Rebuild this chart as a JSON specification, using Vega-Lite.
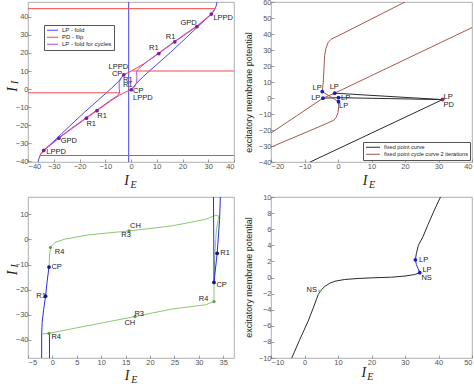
{
  "$schema": "https://vega.github.io/schema/vega-lite/v6.json",
  "padding": {"left": 4, "top": -3, "right": 0, "bottom": 0},
  "columns": 2,
  "spacing": {"row": 35, "column": 37},
  "bounds": "flush",
  "resolve": {"scale": {"color": "independent"}, "legend": {"color": "independent"}},
  "config": {
    "font": "Liberation Sans",
    "view": {"stroke": "#9a9a9a", "strokeWidth": 0.8},
    "axis": {"grid": false, "domain": false, "tickSize": -3, "tickColor": "#777", "tickWidth": 0.7, "labelFont": "Liberation Sans", "labelFontSize": 7.5, "labelColor": "#555", "labelPadding": 3, "titleFont": "Liberation Serif", "titleFontStyle": "italic", "titleFontWeight": "normal", "titleColor": "#222", "titleFontSize": 14, "titleBaseline": "alphabetic", "titleAlign": "center"},
    "legend": {"labelFont": "Liberation Sans", "labelColor": "#222", "strokeColor": "#555", "fillColor": "#ffffff", "padding": 2, "rowPadding": 0, "symbolType": "stroke", "symbolStrokeWidth": 1.1, "labelOffset": 3}
  },
  "concat": [
    {
      "width": 206, "height": 160,
      "resolve": {"axis": {"x": "independent", "y": "independent"}},
      "layer": [
        {
          "data": {"values": [
            {"s":"LP - fold","id":"bv","o":0,"x":-0.9,"y":48.3},{"s":"LP - fold","id":"bv","o":1,"x":-0.9,"y":-40.5},
            {"s":"LP - fold","id":"bA","o":0,"x":-36.1,"y":-40.5},{"s":"LP - fold","id":"bA","o":1,"x":-35.7,"y":-38.3},{"s":"LP - fold","id":"bA","o":2,"x":-35.0,"y":-36.0},{"s":"LP - fold","id":"bA","o":3,"x":-33.9,"y":-34.1},{"s":"LP - fold","id":"bA","o":4,"x":-29,"y":-27.6},{"s":"LP - fold","id":"bA","o":5,"x":-24,"y":-20.8},{"s":"LP - fold","id":"bA","o":6,"x":-18,"y":-12.8},{"s":"LP - fold","id":"bA","o":7,"x":-12,"y":-5.2},{"s":"LP - fold","id":"bA","o":8,"x":-7.5,"y":0.5},{"s":"LP - fold","id":"bA","o":9,"x":-4.8,"y":4.3},{"s":"LP - fold","id":"bA","o":10,"x":-2.8,"y":7.9},
            {"s":"LP - fold","id":"bB","o":0,"x":0.1,"y":-0.4},{"s":"LP - fold","id":"bB","o":1,"x":2.1,"y":3.2},{"s":"LP - fold","id":"bB","o":2,"x":4.8,"y":7},{"s":"LP - fold","id":"bB","o":3,"x":9.3,"y":12.7},{"s":"LP - fold","id":"bB","o":4,"x":15.3,"y":20.3},{"s":"LP - fold","id":"bB","o":5,"x":21.3,"y":28.3},{"s":"LP - fold","id":"bB","o":6,"x":26.3,"y":35.1},{"s":"LP - fold","id":"bB","o":7,"x":31.2,"y":41.6},{"s":"LP - fold","id":"bB","o":8,"x":32.3,"y":43.5},{"s":"LP - fold","id":"bB","o":9,"x":33,"y":45.8},{"s":"LP - fold","id":"bB","o":10,"x":33.4,"y":48.3},
            {"s":"PD - flip","id":"rh1","o":0,"x":-40,"y":44.6},{"s":"PD - flip","id":"rh1","o":1,"x":32.6,"y":44.6},
            {"s":"PD - flip","id":"rh2","o":0,"x":0.5,"y":10},{"s":"PD - flip","id":"rh2","o":1,"x":40,"y":10},
            {"s":"PD - flip","id":"rh3","o":0,"x":-40,"y":-2.1},{"s":"PD - flip","id":"rh3","o":1,"x":-4.3,"y":-2.1},
            {"s":"PD - flip","id":"rh4","o":0,"x":-35.4,"y":-36.9},{"s":"PD - flip","id":"rh4","o":1,"x":40,"y":-36.9},
            {"s":"PD - flip","id":"rL","o":0,"x":-35.4,"y":-36.9},{"s":"PD - flip","id":"rL","o":1,"x":-33.9,"y":-34.1},{"s":"PD - flip","id":"rL","o":2,"x":-28,"y":-27.3},{"s":"PD - flip","id":"rL","o":3,"x":-22,"y":-21},{"s":"PD - flip","id":"rL","o":4,"x":-17.3,"y":-16.2},{"s":"PD - flip","id":"rL","o":5,"x":-13.2,"y":-12},{"s":"PD - flip","id":"rL","o":6,"x":-8,"y":-6.7},{"s":"PD - flip","id":"rL","o":7,"x":-4.3,"y":-3.3},{"s":"PD - flip","id":"rL","o":8,"x":-2,"y":-1.6},{"s":"PD - flip","id":"rL","o":9,"x":0.1,"y":-0.4},
            {"s":"PD - flip","id":"rU","o":0,"x":-2.8,"y":7.9},{"s":"PD - flip","id":"rU","o":1,"x":0,"y":9.9},{"s":"PD - flip","id":"rU","o":2,"x":5,"y":14},{"s":"PD - flip","id":"rU","o":3,"x":10.8,"y":19.7},{"s":"PD - flip","id":"rU","o":4,"x":17,"y":26.2},{"s":"PD - flip","id":"rU","o":5,"x":21,"y":30.2},{"s":"PD - flip","id":"rU","o":6,"x":25.6,"y":34.7},{"s":"PD - flip","id":"rU","o":7,"x":29,"y":38.6},{"s":"PD - flip","id":"rU","o":8,"x":31.2,"y":41.6},{"s":"PD - flip","id":"rU","o":9,"x":32.6,"y":44.6},
            {"s":"LP - fold for cycles","id":"pL","o":0,"x":-33.9,"y":-34.1},{"s":"LP - fold for cycles","id":"pL","o":1,"x":-28,"y":-27},{"s":"LP - fold for cycles","id":"pL","o":2,"x":-22,"y":-20.6},{"s":"LP - fold for cycles","id":"pL","o":3,"x":-17.3,"y":-15.8},{"s":"LP - fold for cycles","id":"pL","o":4,"x":-13.2,"y":-11.6},{"s":"LP - fold for cycles","id":"pL","o":5,"x":-8,"y":-6.3},{"s":"LP - fold for cycles","id":"pL","o":6,"x":-5.2,"y":-3.6},{"s":"LP - fold for cycles","id":"pL","o":7,"x":-4.4,"y":-2.2},{"s":"LP - fold for cycles","id":"pL","o":8,"x":-4.6,"y":0.5},{"s":"LP - fold for cycles","id":"pL","o":9,"x":-4.6,"y":3.5},{"s":"LP - fold for cycles","id":"pL","o":10,"x":-4,"y":5.8},{"s":"LP - fold for cycles","id":"pL","o":11,"x":-2.8,"y":7.9},
            {"s":"LP - fold for cycles","id":"pU","o":0,"x":31.2,"y":41.6},{"s":"LP - fold for cycles","id":"pU","o":1,"x":25.6,"y":35},{"s":"LP - fold for cycles","id":"pU","o":2,"x":21,"y":30.5},{"s":"LP - fold for cycles","id":"pU","o":3,"x":17,"y":26.5},{"s":"LP - fold for cycles","id":"pU","o":4,"x":10.8,"y":20},{"s":"LP - fold for cycles","id":"pU","o":5,"x":6,"y":15},{"s":"LP - fold for cycles","id":"pU","o":6,"x":3,"y":11.3},{"s":"LP - fold for cycles","id":"pU","o":7,"x":2.2,"y":9.8},{"s":"LP - fold for cycles","id":"pU","o":8,"x":2.3,"y":7},{"s":"LP - fold for cycles","id":"pU","o":9,"x":2.2,"y":3.5},{"s":"LP - fold for cycles","id":"pU","o":10,"x":1.3,"y":1},{"s":"LP - fold for cycles","id":"pU","o":11,"x":0.1,"y":-0.4}
          ]},
          "mark": {"type": "line", "strokeWidth": 1, "clip": true},
          "encoding": {
            "x": {"field": "x", "type": "quantitative", "scale": {"domain": [-40, 40], "nice": false, "zero": false}, "axis": {"values": [-40,-30,-20,-10,0,10,20,30,40], "title": "I", "titleX": 98, "titleY": 22}},
            "y": {"field": "y", "type": "quantitative", "scale": {"domain": [-40.5, 48.3], "nice": false, "zero": false}, "axis": {"values": [-40,-30,-20,-10,0,10,20,30,40], "title": "I", "titleX": -11.8, "titleY": 86.8}},
            "color": {"field": "s", "type": "nominal", "scale": {"domain": ["LP - fold", "PD - flip", "LP - fold for cycles"], "range": ["#4646f2", "#f04a4a", "#b04ad8"]}, "legend": {"title": null, "orient": "none", "legendX": 16, "legendY": 23, "symbolSize": 121, "clipHeight": 6.5, "labelFontSize": 6}},
            "detail": {"field": "id"},
            "order": {"field": "o", "type": "quantitative"}
          }
        },
        {
          "data": {"values": [{"x":-33.9,"y":-34.1},{"x":-28,"y":-27.3},{"x":-17.3,"y":-16.2},{"x":-13.2,"y":-12},{"x":0.1,"y":-0.4},{"x":-2.8,"y":7.9},{"x":10.8,"y":19.7},{"x":17,"y":26.2},{"x":25.6,"y":34.7},{"x":31.2,"y":41.6}]},
          "mark": {"type": "point", "filled": true, "size": 14, "color": "#7a1e96", "opacity": 1},
          "encoding": {"x": {"field": "x", "type": "quantitative", "axis": null}, "y": {"field": "y", "type": "quantitative", "axis": null}}
        },
        {
          "data": {"values": [{"t":"LPPD","x":32,"y":39.3},{"t":"GPD","x":19.2,"y":36.9},{"t":"R1","x":13.5,"y":29.1},{"t":"R1","x":7,"y":23},{"t":"LPPD","x":-8.7,"y":12},{"t":"CP","x":-7.4,"y":8.3},{"t":"R1","x":-3.1,"y":5},{"t":"R1","x":-3.1,"y":2.2},{"t":"CP","x":0.8,"y":-0.9},{"t":"LPPD","x":0.8,"y":-5},{"t":"R1","x":-13.1,"y":-15.1},{"t":"R1","x":-17.3,"y":-19.5},{"t":"GPD","x":-27.3,"y":-28.6},{"t":"LPPD","x":-32.9,"y":-34.7}]},
          "mark": {"type": "text", "align": "left", "baseline": "middle", "fontSize": 7.5, "color": "#222"},
          "encoding": {"x": {"field": "x", "type": "quantitative", "axis": null}, "y": {"field": "y", "type": "quantitative", "axis": null}, "text": {"field": "t"}}
        },
        {
          "data": {"values": [{"x": 0, "y": 0}]},
          "mark": {"type": "point", "opacity": 0},
          "encoding": {
            "x": {"field": "x", "type": "quantitative", "axis": {"orient": "bottom", "title": "E", "labels": false, "ticks": false, "titleFontSize": 10, "titleAlign": "left", "titleX": 102, "titleY": 25}},
            "y": {"field": "y", "type": "quantitative", "axis": {"orient": "left", "title": "I", "labels": false, "ticks": false, "titleFontSize": 10, "titleAlign": "left", "titleX": -10.6, "titleY": 81.6}}
          }
        }
      ]
    },
    {
      "width": 201, "height": 160,
      "resolve": {"axis": {"x": "independent", "y": "independent"}},
      "layer": [
        {
          "data": {"values": [
            {"s":"fixed point curve","id":"k1","o":0,"x":-8.3,"y":-40},{"s":"fixed point curve","id":"k1","o":1,"x":31.2,"y":-1},
            {"s":"fixed point curve","id":"k2","o":0,"x":31.2,"y":-1},{"s":"fixed point curve","id":"k2","o":1,"x":-1,"y":3},
            {"s":"fixed point curve","id":"k3","o":0,"x":31.2,"y":-1},{"s":"fixed point curve","id":"k3","o":1,"x":0.15,"y":0.2},
            {"s":"fixed point curve","id":"k4","o":0,"x":-4.5,"y":-0.1},{"s":"fixed point curve","id":"k4","o":1,"x":0.15,"y":0.2},
            {"s":"fixed point cycle curve 2 iterations","id":"cU","o":0,"x":-4.7,"y":4},{"s":"fixed point cycle curve 2 iterations","id":"cU","o":1,"x":-4.4,"y":9.8},{"s":"fixed point cycle curve 2 iterations","id":"cU","o":2,"x":-4.2,"y":18},{"s":"fixed point cycle curve 2 iterations","id":"cU","o":3,"x":-4,"y":26.4},{"s":"fixed point cycle curve 2 iterations","id":"cU","o":4,"x":-3.6,"y":31},{"s":"fixed point cycle curve 2 iterations","id":"cU","o":5,"x":-3,"y":34.5},{"s":"fixed point cycle curve 2 iterations","id":"cU","o":6,"x":-2.2,"y":36.5},{"s":"fixed point cycle curve 2 iterations","id":"cU","o":7,"x":-1.3,"y":37.6},{"s":"fixed point cycle curve 2 iterations","id":"cU","o":8,"x":0,"y":38.8},{"s":"fixed point cycle curve 2 iterations","id":"cU","o":9,"x":20,"y":60},
            {"s":"fixed point cycle curve 2 iterations","id":"cL","o":0,"x":0.15,"y":-2.3},{"s":"fixed point cycle curve 2 iterations","id":"cL","o":1,"x":0.2,"y":-5.5},{"s":"fixed point cycle curve 2 iterations","id":"cL","o":2,"x":0,"y":-9},{"s":"fixed point cycle curve 2 iterations","id":"cL","o":3,"x":-0.5,"y":-12},{"s":"fixed point cycle curve 2 iterations","id":"cL","o":4,"x":-1.3,"y":-14},{"s":"fixed point cycle curve 2 iterations","id":"cL","o":5,"x":-2.5,"y":-15.1},{"s":"fixed point cycle curve 2 iterations","id":"cL","o":6,"x":-5,"y":-17.4},{"s":"fixed point cycle curve 2 iterations","id":"cL","o":7,"x":-20,"y":-30.7},
            {"s":"fixed point cycle curve 2 iterations","id":"cD","o":0,"x":-20,"y":-21.9},{"s":"fixed point cycle curve 2 iterations","id":"cD","o":1,"x":-4.5,"y":-0.1},{"s":"fixed point cycle curve 2 iterations","id":"cD","o":2,"x":-1,"y":3},{"s":"fixed point cycle curve 2 iterations","id":"cD","o":3,"x":41,"y":45},
            {"s":"fixed point cycle curve 2 iterations","id":"cX","o":0,"x":-4.7,"y":4},{"s":"fixed point cycle curve 2 iterations","id":"cX","o":1,"x":0.15,"y":-2.3}
          ]},
          "mark": {"type": "line", "strokeWidth": 1, "clip": true},
          "encoding": {
            "x": {"field": "x", "type": "quantitative", "scale": {"domain": [-20, 40], "nice": false, "zero": false}, "axis": {"values": [-20,-10,0,10,20,30,40], "title": "I", "titleX": 93.7, "titleY": 22}},
            "y": {"field": "y", "type": "quantitative", "scale": {"domain": [-40, 60], "nice": false, "zero": false}, "axis": {"values": [-40,-30,-20,-10,0,10,20,30,40,50,60], "title": "excitatory membrane potential", "titleFont": "Liberation Sans", "titleFontStyle": "normal", "titleFontSize": 9, "titleX": -19.3, "titleY": 90}},
            "color": {"field": "s", "type": "nominal", "scale": {"domain": ["fixed point curve", "fixed point cycle curve 2 iterations"], "range": ["#2b2b2b", "#a8564e"]}, "legend": {"title": null, "orient": "bottom-right", "offset": 2, "symbolSize": 196, "clipHeight": 6.5, "labelFontSize": 5.6}},
            "detail": {"field": "id"},
            "order": {"field": "o", "type": "quantitative"}
          }
        },
        {
          "data": {"values": [{"x":-4.7,"y":4},{"x":-1,"y":3},{"x":-4.5,"y":-0.1},{"x":0.15,"y":0.2},{"x":0.15,"y":-2.3}]},
          "mark": {"type": "point", "filled": true, "size": 14, "color": "#1818d0", "opacity": 1},
          "encoding": {"x": {"field": "x", "type": "quantitative", "axis": null}, "y": {"field": "y", "type": "quantitative", "axis": null}}
        },
        {
          "data": {"values": [{"x":31.2,"y":-1}]},
          "mark": {"type": "point", "filled": true, "size": 16, "color": "#a8205a", "opacity": 1},
          "encoding": {"x": {"field": "x", "type": "quantitative", "axis": null}, "y": {"field": "y", "type": "quantitative", "axis": null}}
        },
        {
          "data": {"values": [{"t":"LP","x":-7.6,"y":6.1},{"t":"LP","x":-2.5,"y":6.7},{"t":"LP","x":-8,"y":0},{"t":"LP","x":0.9,"y":0},{"t":"LP","x":0.3,"y":-5.2},{"t":"LP","x":31.5,"y":0.9},{"t":"PD","x":31.5,"y":-4.3}]},
          "mark": {"type": "text", "align": "left", "baseline": "middle", "fontSize": 7.5, "color": "#222"},
          "encoding": {"x": {"field": "x", "type": "quantitative", "axis": null}, "y": {"field": "y", "type": "quantitative", "axis": null}, "text": {"field": "t"}}
        },
        {
          "data": {"values": [{"x": 0, "y": 0}]},
          "mark": {"type": "point", "opacity": 0},
          "encoding": {
            "x": {"field": "x", "type": "quantitative", "axis": {"orient": "bottom", "title": "E", "labels": false, "ticks": false, "titleFontSize": 10, "titleAlign": "left", "titleX": 97.4, "titleY": 25}},
            "y": {"field": "y", "type": "quantitative", "axis": null}
          }
        }
      ]
    },
    {
      "width": 206, "height": 161,
      "resolve": {"axis": {"x": "independent", "y": "independent"}},
      "layer": [
        {
          "data": {"values": [
            {"s":"g","id":"g1","o":0,"x":-0.7,"y":-11},{"s":"g","id":"g1","o":1,"x":-0.6,"y":-7},{"s":"g","id":"g1","o":2,"x":-0.4,"y":-3.2},{"s":"g","id":"g1","o":3,"x":0.5,"y":-1.2},{"s":"g","id":"g1","o":4,"x":2.5,"y":0.1},{"s":"g","id":"g1","o":5,"x":7.3,"y":1.8},{"s":"g","id":"g1","o":6,"x":15.7,"y":3.4},{"s":"g","id":"g1","o":7,"x":24.5,"y":5.4},{"s":"g","id":"g1","o":8,"x":31.4,"y":8.0},{"s":"g","id":"g1","o":9,"x":33.4,"y":9.6},{"s":"g","id":"g1","o":10,"x":34.1,"y":9.3},{"s":"g","id":"g1","o":11,"x":33.6,"y":4},{"s":"g","id":"g1","o":12,"x":33.3,"y":-5},{"s":"g","id":"g1","o":13,"x":33.1,"y":-17.1},{"s":"g","id":"g1","o":14,"x":33.1,"y":-24.7},{"s":"g","id":"g1","o":15,"x":31.4,"y":-26},{"s":"g","id":"g1","o":16,"x":24.5,"y":-27.7},{"s":"g","id":"g1","o":17,"x":16.9,"y":-30.7},{"s":"g","id":"g1","o":18,"x":10.8,"y":-33},{"s":"g","id":"g1","o":19,"x":3.9,"y":-35.6},{"s":"g","id":"g1","o":20,"x":-0.7,"y":-37.4},{"s":"g","id":"g1","o":21,"x":-2.1,"y":-37.6},
            {"s":"b","id":"bA","o":0,"x":-0.7,"y":-11},{"s":"b","id":"bA","o":1,"x":-1.1,"y":-17},{"s":"b","id":"bA","o":2,"x":-1.4,"y":-22.6},{"s":"b","id":"bA","o":3,"x":-1.8,"y":-28},{"s":"b","id":"bA","o":4,"x":-2.1,"y":-33},{"s":"b","id":"bA","o":5,"x":-2.2,"y":-37.5},{"s":"b","id":"bA","o":6,"x":-2.2,"y":-47.2},
            {"s":"b","id":"bB","o":0,"x":-0.6,"y":-37.4},{"s":"b","id":"bB","o":1,"x":-0.6,"y":-47.2},
            {"s":"b","id":"bC","o":0,"x":33.0,"y":16.9},{"s":"b","id":"bC","o":1,"x":33.05,"y":0},{"s":"b","id":"bC","o":2,"x":33.1,"y":-17.1},
            {"s":"b","id":"bD","o":0,"x":34.4,"y":16.9},{"s":"b","id":"bD","o":1,"x":34.25,"y":8},{"s":"b","id":"bD","o":2,"x":33.75,"y":-5.5},{"s":"b","id":"bD","o":3,"x":33.1,"y":-17.1}
          ]},
          "mark": {"type": "line", "strokeWidth": 1, "clip": true},
          "encoding": {
            "x": {"field": "x", "type": "quantitative", "scale": {"domain": [-5, 37.2], "nice": false, "zero": false}, "axis": {"values": [-5,0,5,10,15,20,25,30,35], "title": "I", "titleX": 98.7, "titleY": 21}},
            "y": {"field": "y", "type": "quantitative", "scale": {"domain": [-47.2, 16.9], "nice": false, "zero": false}, "axis": {"values": [-40,-30,-20,-10,0,10], "title": "I", "titleX": -11.8, "titleY": 75.5}},
            "color": {"field": "s", "type": "nominal", "scale": {"domain": ["g", "b"], "range": ["#8cc86e", "#2a2ae6"]}, "legend": null},
            "detail": {"field": "id"},
            "order": {"field": "o", "type": "quantitative"}
          }
        },
        {
          "data": {"values": [{"x":-0.4,"y":-3.2},{"x":15.7,"y":3.4},{"x":33.1,"y":-24.7},{"x":16.9,"y":-30.7},{"x":-0.7,"y":-37.4}]},
          "mark": {"type": "point", "filled": true, "size": 10, "color": "#5a9a40", "opacity": 1},
          "encoding": {"x": {"field": "x", "type": "quantitative", "axis": null}, "y": {"field": "y", "type": "quantitative", "axis": null}}
        },
        {
          "data": {"values": [{"x":-0.7,"y":-11},{"x":-1.4,"y":-22.6},{"x":33.75,"y":-5.5},{"x":33.1,"y":-17.1}]},
          "mark": {"type": "point", "filled": true, "size": 14, "color": "#14148c", "opacity": 1},
          "encoding": {"x": {"field": "x", "type": "quantitative", "axis": null}, "y": {"field": "y", "type": "quantitative", "axis": null}}
        },
        {
          "data": {"values": [{"t":"CH","x":15.9,"y":5.4},{"t":"R3","x":14.1,"y":1.7},{"t":"R4","x":0.5,"y":-4.8},{"t":"CP","x":-0.2,"y":-10.9},{"t":"R1","x":-3.3,"y":-22.5},{"t":"R4","x":-0.2,"y":-39},{"t":"R3","x":16.8,"y":-29.7},{"t":"CH","x":14.75,"y":-33.1},{"t":"R1","x":34.4,"y":-5.3},{"t":"CP","x":33.6,"y":-18},{"t":"R4","x":30,"y":-23.7}]},
          "mark": {"type": "text", "align": "left", "baseline": "middle", "fontSize": 7.5, "color": "#222"},
          "encoding": {"x": {"field": "x", "type": "quantitative", "axis": null}, "y": {"field": "y", "type": "quantitative", "axis": null}, "text": {"field": "t"}}
        },
        {
          "data": {"values": [{"x": 0, "y": 0}]},
          "mark": {"type": "point", "opacity": 0},
          "encoding": {
            "x": {"field": "x", "type": "quantitative", "axis": {"orient": "bottom", "title": "E", "labels": false, "ticks": false, "titleFontSize": 10, "titleAlign": "left", "titleX": 102.7, "titleY": 24}},
            "y": {"field": "y", "type": "quantitative", "axis": {"orient": "left", "title": "I", "labels": false, "ticks": false, "titleFontSize": 10, "titleAlign": "left", "titleX": -10.6, "titleY": 70}}
          }
        }
      ]
    },
    {
      "width": 201, "height": 161,
      "resolve": {"axis": {"x": "independent", "y": "independent"}},
      "layer": [
        {
          "data": {"values": [
            {"s":"k","id":"k1","o":0,"x":-3.8,"y":-10},{"s":"k","id":"k1","o":1,"x":-1.4,"y":-7.7},{"s":"k","id":"k1","o":2,"x":1.1,"y":-5.4},{"s":"k","id":"k1","o":3,"x":2.6,"y":-3.8},{"s":"k","id":"k1","o":4,"x":4.1,"y":-2.1},{"s":"k","id":"k1","o":5,"x":5.1,"y":-1.5},{"s":"k","id":"k1","o":6,"x":6.1,"y":-1.1},{"s":"k","id":"k1","o":7,"x":7.6,"y":-0.7},{"s":"k","id":"k1","o":8,"x":9.1,"y":-0.46},{"s":"k","id":"k1","o":9,"x":12,"y":-0.25},{"s":"k","id":"k1","o":10,"x":16,"y":-0.12},{"s":"k","id":"k1","o":11,"x":21,"y":-0.03},{"s":"k","id":"k1","o":12,"x":26,"y":0.04},{"s":"k","id":"k1","o":13,"x":30,"y":0.18},{"s":"k","id":"k1","o":14,"x":32.9,"y":0.37},{"s":"k","id":"k1","o":15,"x":34.4,"y":0.6},
            {"s":"b","id":"b1","o":0,"x":34.4,"y":0.6},{"s":"b","id":"b1","o":1,"x":33.9,"y":1.1},{"s":"b","id":"b1","o":2,"x":33.4,"y":1.6},{"s":"b","id":"b1","o":3,"x":33.1,"y":2.2},
            {"s":"k","id":"k2","o":0,"x":33.1,"y":2.2},{"s":"k","id":"k2","o":1,"x":33.4,"y":3.0},{"s":"k","id":"k2","o":2,"x":34.0,"y":4.0},{"s":"k","id":"k2","o":3,"x":35.4,"y":5.1},{"s":"k","id":"k2","o":4,"x":36.9,"y":6.6},{"s":"k","id":"k2","o":5,"x":38.9,"y":8.5},{"s":"k","id":"k2","o":6,"x":40.6,"y":10}
          ]},
          "mark": {"type": "line", "strokeWidth": 1, "clip": true},
          "encoding": {
            "x": {"field": "x", "type": "quantitative", "scale": {"domain": [-10, 50], "nice": false, "zero": false}, "axis": {"values": [-10,0,10,20,30,40,50], "title": "I", "titleX": 92.3, "titleY": 18.7}},
            "y": {"field": "y", "type": "quantitative", "scale": {"domain": [-10, 10], "nice": false, "zero": false}, "axis": {"values": [-10,-8,-6,-4,-2,0,2,4,6,8,10], "title": "excitatory membrane potential", "titleFont": "Liberation Sans", "titleFontStyle": "normal", "titleFontSize": 9, "titleX": -19.3, "titleY": 80}},
            "color": {"field": "s", "type": "nominal", "scale": {"domain": ["k", "b"], "range": ["#2b2b2b", "#2a2ae6"]}, "legend": null},
            "detail": {"field": "id"},
            "order": {"field": "o", "type": "quantitative"}
          }
        },
        {
          "data": {"values": [{"x":4.6,"y":-1.7}]},
          "mark": {"type": "point", "filled": true, "size": 8, "color": "#7cc060", "opacity": 1},
          "encoding": {"x": {"field": "x", "type": "quantitative", "axis": null}, "y": {"field": "y", "type": "quantitative", "axis": null}}
        },
        {
          "data": {"values": [{"x":33.1,"y":2.2},{"x":34.4,"y":0.6}]},
          "mark": {"type": "point", "filled": true, "size": 14, "color": "#1818d0", "opacity": 1},
          "encoding": {"x": {"field": "x", "type": "quantitative", "axis": null}, "y": {"field": "y", "type": "quantitative", "axis": null}}
        },
        {
          "data": {"values": [{"t":"NS","x":0.6,"y":-1.6},{"t":"LP","x":34.2,"y":2.2},{"t":"LP","x":35.2,"y":0.9},{"t":"NS","x":34.9,"y":-0.1}]},
          "mark": {"type": "text", "align": "left", "baseline": "middle", "fontSize": 7.5, "color": "#222"},
          "encoding": {"x": {"field": "x", "type": "quantitative", "axis": null}, "y": {"field": "y", "type": "quantitative", "axis": null}, "text": {"field": "t"}}
        },
        {
          "data": {"values": [{"x": 0, "y": 0}]},
          "mark": {"type": "point", "opacity": 0},
          "encoding": {
            "x": {"field": "x", "type": "quantitative", "axis": {"orient": "bottom", "title": "E", "labels": false, "ticks": false, "titleFontSize": 10, "titleAlign": "left", "titleX": 95.7, "titleY": 21.3}},
            "y": {"field": "y", "type": "quantitative", "axis": null}
          }
        }
      ]
    }
  ]
}
